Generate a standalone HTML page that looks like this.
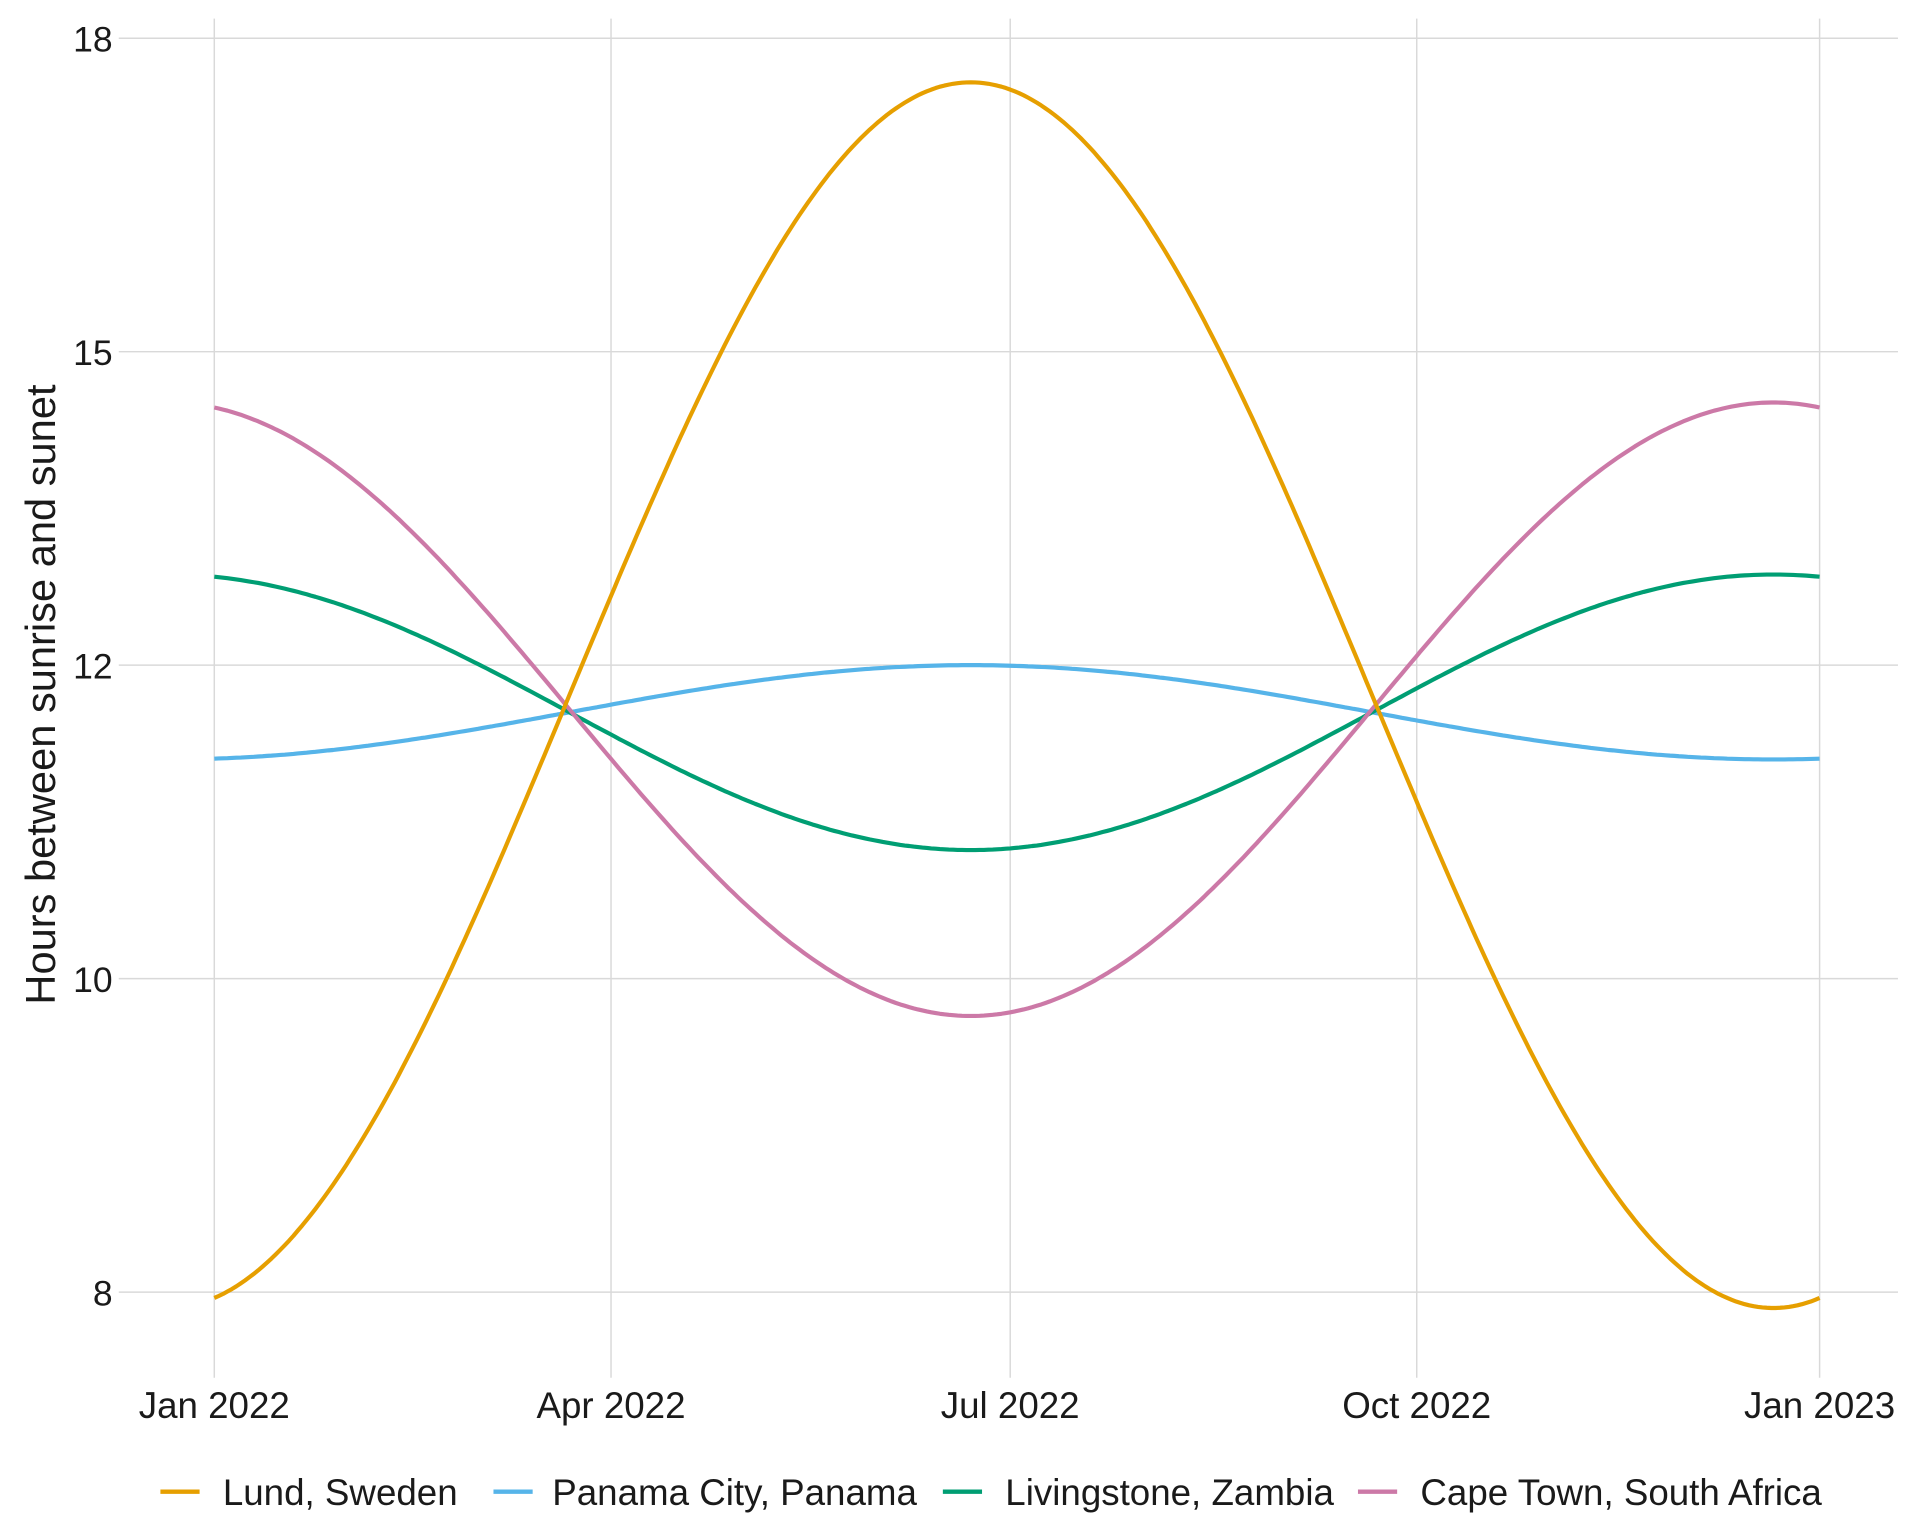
<!DOCTYPE html>
<html><head><meta charset="utf-8"><style>
html,body{margin:0;padding:0;background:#fff;}
svg{display:block;}
text{font-family:"Liberation Sans",Arial,sans-serif;fill:#1a1a1a;}
</style></head><body>
<svg id="s" width="1920" height="1536" viewBox="0 0 1568 1254" xmlns="http://www.w3.org/2000/svg">
<rect width="1568" height="1254" fill="#fff"/>
<g stroke="#d9d9d9" stroke-width="1.2">
<line x1="97" y1="31" x2="1550" y2="31"/>
<line x1="97" y1="287" x2="1550" y2="287"/>
<line x1="97" y1="543" x2="1550" y2="543"/>
<line x1="97" y1="799" x2="1550" y2="799"/>
<line x1="97" y1="1055" x2="1550" y2="1055"/>
<line x1="175" y1="15" x2="175" y2="1125"/>
<line x1="499" y1="15" x2="499" y2="1125"/>
<line x1="825" y1="15" x2="825" y2="1125"/>
<line x1="1157" y1="15" x2="1157" y2="1125"/>
<line x1="1486" y1="15" x2="1486" y2="1125"/>
</g>
<g font-size="29" text-anchor="end">
<text x="92" y="42">18</text>
<text x="92" y="298">15</text>
<text x="92" y="554">12</text>
<text x="92" y="810">10</text>
<text x="92" y="1066">8</text>
</g>
<g font-size="30" text-anchor="middle">
<text x="175" y="1158">Jan 2022</text>
<text x="499" y="1158">Apr 2022</text>
<text x="825" y="1158">Jul 2022</text>
<text x="1157" y="1158">Oct 2022</text>
<text x="1486" y="1158">Jan 2023</text>
</g>
<text font-size="34" text-anchor="middle" transform="translate(45,567) rotate(-90)">Hours between sunrise and sunet</text>
<g id="lines" fill="none" stroke-width="3.4" stroke-linejoin="round"></g>
<g stroke-width="3.5">
<line x1="131" y1="1218" x2="163" y2="1218" stroke="#E69F00"/>
<line x1="403" y1="1218" x2="435" y2="1218" stroke="#56B4E9"/>
<line x1="770" y1="1218" x2="802" y2="1218" stroke="#009E73"/>
<line x1="1109" y1="1218" x2="1141" y2="1218" stroke="#CC79A7"/>
</g>
<g font-size="30">
<text x="182" y="1229">Lund, Sweden</text>
<text x="451" y="1229">Panama City, Panama</text>
<text x="821" y="1229">Livingstone, Zambia</text>
<text x="1160" y="1229">Cape Town, South Africa</text>
</g>
</svg>
<script>
var g=document.getElementById('lines');
var series=[["#56B4E9",581.5,-38.5],["#009E73",581.5,112.5],["#CC79A7",579,250.5],["#E69F00",567.5,-500.5]];
series.forEach(function(s){
 var d="";
 for(var day=0;day<=365;day+=1){
  var x=175+day/365*1311;
  var y=s[1]+s[2]*Math.cos(2*Math.PI*(day-172)/365);
  d+=(day?"L":"M")+x.toFixed(1)+" "+y.toFixed(1);
 }
 var p=document.createElementNS("http://www.w3.org/2000/svg","path");
 p.setAttribute("d",d);p.setAttribute("stroke",s[0]);
 g.appendChild(p);
});
</script>
</body></html>
